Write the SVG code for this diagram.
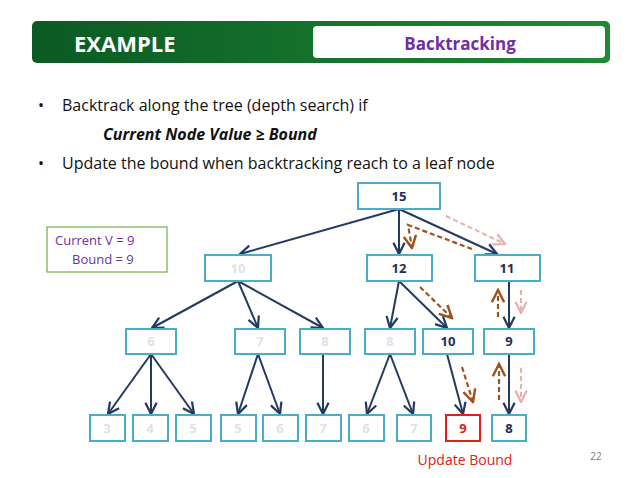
<svg xmlns="http://www.w3.org/2000/svg" width="638" height="478" viewBox="0 0 638 478">
<defs>
<linearGradient id="g" x1="0" x2="1"><stop offset="0" stop-color="#0b5a24"/><stop offset="1" stop-color="#1f8a34"/></linearGradient>
<marker id="a" viewBox="0 0 10 10" refX="9" refY="5" markerWidth="7" markerHeight="7" orient="auto"><path d="M1,1 L9,5 L1,9" fill="none" stroke="#243a5e" stroke-width="1.6"/></marker>
<marker id="b" viewBox="0 0 10 10" refX="9" refY="5" markerWidth="7" markerHeight="7" orient="auto"><path d="M1,1 L9,5 L1,9" fill="none" stroke="#a0521a" stroke-width="1.6"/></marker>
<marker id="p" viewBox="0 0 10 10" refX="9" refY="5" markerWidth="7" markerHeight="7" orient="auto"><path d="M1,1 L9,5 L1,9" fill="none" stroke="#e8b0ac" stroke-width="1.6"/></marker>
</defs>
<style>
text{font-family:"Open Sans","Liberation Sans",sans-serif}
.n rect{fill:#fff;stroke:#4bacc6;stroke-width:2}
.n text{font-size:13px;font-weight:bold;text-anchor:middle;fill:#dde2ec}
.n.d text{fill:#1f2d5a}
.e line{stroke:#243a5e;stroke-width:2;marker-end:url(#a)}
.br{stroke:#a0521a;stroke-width:2.2;stroke-dasharray:5,3;fill:none;marker-end:url(#b)}
.pk{stroke:#e8b0ac;stroke-width:2;stroke-dasharray:5,3;fill:none;marker-end:url(#p)}
.t{font-size:16px;fill:#111}
</style>
<rect x="0" y="0" width="638" height="478" fill="#fff"/>
<rect x="32" y="21" width="578" height="42" rx="5" fill="url(#g)"/>
<rect x="313" y="26" width="292" height="32" rx="4" fill="#fff"/>
<text x="74" y="52" font-size="22" font-weight="bold" fill="#fff">EXAMPLE</text>
<text x="460" y="50" font-size="17" font-weight="bold" fill="#7030a0" text-anchor="middle">Backtracking</text>
<text x="38" y="111" class="t">•</text>
<text x="62" y="111" class="t">Backtrack along the tree (depth search) if</text>
<text x="103" y="140" class="t" font-weight="bold" font-style="italic">Current Node Value ≥ Bound</text>
<text x="38" y="169" class="t">•</text>
<text x="62" y="169" class="t">Update the bound when backtracking reach to a leaf node</text>
<g id="info"><rect x="47" y="227" width="120" height="45" fill="#fff" stroke="#70ad47" stroke-width="1.2"/>
<text x="55" y="245" font-size="13" fill="#7030a0">Current V = 9</text>
<text x="72" y="264" font-size="13" fill="#7030a0">Bound = 9</text></g>
<g id="edges" class="e">
<line x1="399" y1="209" x2="240" y2="254"/><line x1="399" y1="209" x2="399" y2="254"/><line x1="399" y1="209" x2="497" y2="254"/>
<line x1="238" y1="281" x2="152" y2="328"/><line x1="238" y1="281" x2="258" y2="328"/><line x1="238" y1="281" x2="323" y2="328"/>
<line x1="151" y1="354" x2="108" y2="414"/><line x1="151" y1="354" x2="151" y2="414"/><line x1="151" y1="354" x2="194" y2="414"/>
<line x1="258" y1="354" x2="238" y2="414"/><line x1="258" y1="354" x2="280" y2="414"/>
<line x1="323" y1="354" x2="323" y2="414"/>
<line x1="399" y1="281" x2="390" y2="328"/><line x1="399" y1="281" x2="447" y2="328"/>
<line x1="390" y1="354" x2="367" y2="414"/><line x1="390" y1="354" x2="413" y2="414"/>
<line x1="447" y1="354" x2="463" y2="414"/>
<line x1="509" y1="281" x2="509" y2="328"/><line x1="509" y1="354" x2="509" y2="414"/>
</g>
<g id="trace">
<polyline class="br" points="472,249 408,225 412,248"/>
<line class="br" x1="420" y1="287" x2="452" y2="318"/>
<line class="br" x1="462" y1="367" x2="473" y2="402"/>
<line class="br" x1="498" y1="317" x2="498" y2="290"/>
<line class="br" x1="499" y1="400" x2="499" y2="364"/>
<line class="pk" x1="446" y1="216" x2="505" y2="244"/>
<line class="pk" x1="521" y1="290" x2="521" y2="313"/>
<line class="pk" x1="521" y1="368" x2="521" y2="402"/>
</g>
<g id="n15" class="n d"><rect x="358" y="183" width="82" height="26"/><text x="399" y="201">15</text></g>
<g id="n10" class="n"><rect x="205" y="255" width="66" height="26"/><text x="238" y="273">10</text></g>
<g id="n12" class="n d"><rect x="367" y="255" width="65" height="26"/><text x="399" y="273">12</text></g>
<g id="n11" class="n d"><rect x="475" y="255" width="65" height="26"/><text x="507" y="273">11</text></g>
<g id="n6" class="n"><rect x="126" y="329" width="50" height="25"/><text x="151" y="346">6</text></g>
<g id="n7" class="n"><rect x="235" y="329" width="50" height="25"/><text x="260" y="346">7</text></g>
<g id="n8a" class="n"><rect x="300" y="329" width="50" height="25"/><text x="325" y="346">8</text></g>
<g id="n8b" class="n"><rect x="365" y="329" width="50" height="25"/><text x="390" y="346">8</text></g>
<g id="n10b" class="n d"><rect x="423" y="329" width="50" height="25"/><text x="448" y="346">10</text></g>
<g id="n9a" class="n d"><rect x="484" y="329" width="50" height="25"/><text x="509" y="346">9</text></g>
<g id="l3" class="n"><rect x="90" y="415" width="35" height="26"/><text x="107" y="433">3</text></g>
<g id="l4" class="n"><rect x="133" y="415" width="35" height="26"/><text x="150" y="433">4</text></g>
<g id="l5" class="n"><rect x="176" y="415" width="35" height="26"/><text x="193" y="433">5</text></g>
<g id="l5b" class="n"><rect x="221" y="415" width="35" height="26"/><text x="238" y="433">5</text></g>
<g id="l6" class="n"><rect x="263" y="415" width="35" height="26"/><text x="280" y="433">6</text></g>
<g id="l7" class="n"><rect x="306" y="415" width="35" height="26"/><text x="323" y="433">7</text></g>
<g id="l6b" class="n"><rect x="349" y="415" width="35" height="26"/><text x="366" y="433">6</text></g>
<g id="l7b" class="n"><rect x="397" y="415" width="34" height="26"/><text x="414" y="433">7</text></g>
<g id="l9"><rect x="446" y="415" width="34" height="26" fill="#fff" stroke="#e02020" stroke-width="2"/><text x="463" y="433" font-size="13" font-weight="bold" fill="#e02020" text-anchor="middle">9</text></g>
<g id="l8" class="n d"><rect x="492" y="415" width="34" height="26"/><text x="509" y="433">8</text></g>
<text x="465" y="465" font-size="14" fill="#e02020" text-anchor="middle">Update Bound</text>
<text x="596" y="460" font-size="10" fill="#777" text-anchor="middle">22</text>
</svg>
